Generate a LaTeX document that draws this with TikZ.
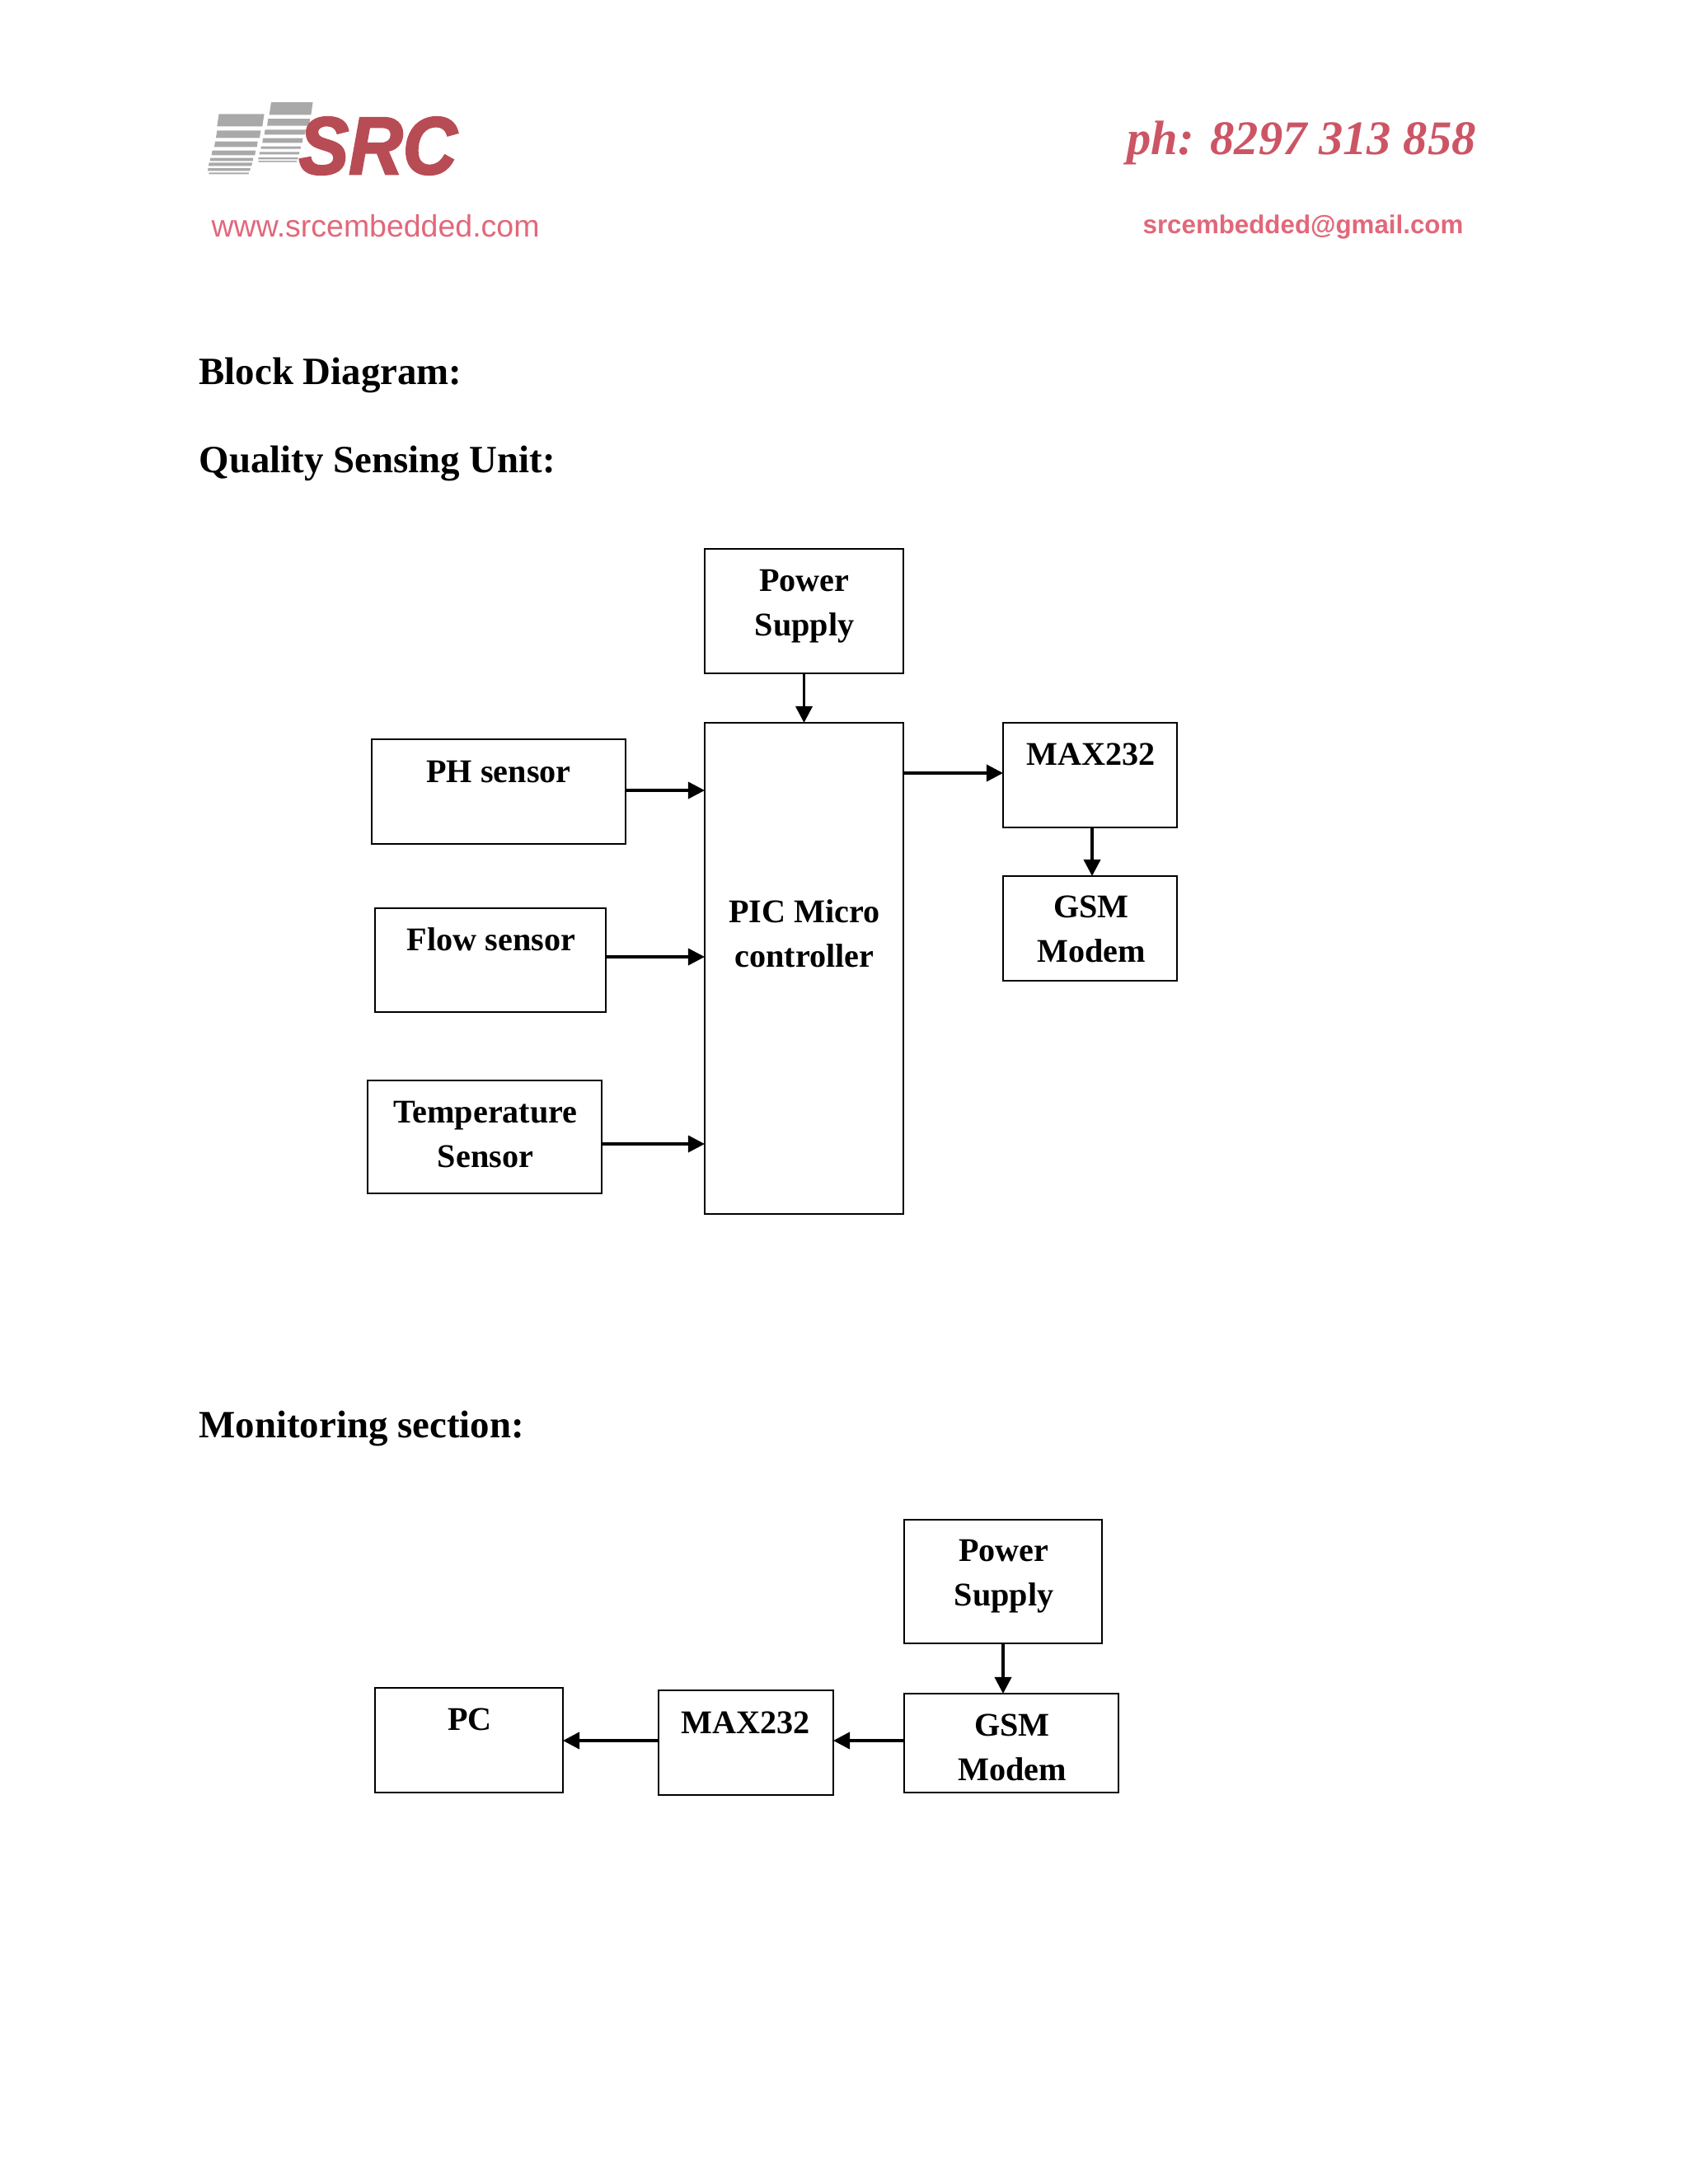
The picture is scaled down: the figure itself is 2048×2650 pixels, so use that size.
\documentclass[tikz,border=0pt]{standalone}
\usepackage{fontspec}
\setmainfont{Liberation Serif}
\newfontfamily\sansf{Liberation Sans}
\newfontfamily\logof[FakeBold=2.5]{Liberation Sans Bold Italic}
\usetikzlibrary{arrows.meta,fit}
\definecolor{logored}{HTML}{B84C55}
\definecolor{linkred}{HTML}{E2677A}
\definecolor{phred}{HTML}{CC5565}
\definecolor{stripe}{HTML}{A9A9A9}
\tikzset{
  boxn/.style={draw=black,line width=0.8pt,inner sep=0pt,outer sep=0pt,rectangle},
  lbl/.style={inner sep=0pt,align=center,font=\fontsize{12}{16}\selectfont\bfseries},
  head/.style={inner sep=0pt,anchor=base west,font=\fontsize{14}{16}\selectfont\bfseries},
  conn/.style={line width=1.05pt,-{Triangle[length=6pt,width=6pt]}},
}
\begin{document}
\begin{tikzpicture}[x=0.298828pt,y=-0.298828pt]
\useasboundingbox (0,0) rectangle (2048,2650);
% logo stripes
\begin{scope}[shift={(220,90)},scale=1/3]
\foreach \ya/\yb/\xa/\xb in {145/190/130/295, 205/232/126/285, 245/265/120/275, 278/295/110/268, 305/316/104/260, 322/334/99/256, 342/352/96/250, 358/364/100/245,
 102/148/320/472, 162/188/312/465, 202/220/302/450, 233/250/295/440, 263/272/289/434, 283/292/284/429, 303/310/280/424, 315/320/280/420}
  \fill[stripe] (\xa,\yb) -- ({\xa+.15*(\yb-\ya)},\ya) -- ({\xb+.15*(\yb-\ya)},\ya) -- (\xb,\yb) -- cycle;
\end{scope}
\node[inner sep=0pt,anchor=base west,text=logored,font=\logof\fontsize{29.5}{31}\selectfont,xscale=.92,transform shape] (logo) at (362,211) {SRC};
\node[inner sep=0pt,anchor=base west,text=linkred,font=\sansf\fontsize{11.2}{12}\selectfont] (web) at (256,287) {www.srcembedded.com};
\node[inner sep=0pt,anchor=base west,text=phred,font=\fontsize{17.5}{19}\selectfont\bfseries\itshape] (phone) at (1367,187) {ph: 8297 313 858};
\node[inner sep=0pt,anchor=base west,text=linkred,font=\sansf\fontsize{9.35}{11}\selectfont\bfseries] (mail) at (1386,283) {srcembedded@gmail.com};
% headings
\node[head] (h1) at (241,466) {Block Diagram:};
\node[head] (h2) at (241,573) {Quality Sensing Unit:};
\node[head] (h3) at (241,1744) {Monitoring section:};
% boxes, upper
\node[boxn,fit={(855,666)(1096,817)}] (ps) {};
\node[boxn,fit={(855,877)(1096,1473)}] (pic) {};
\node[boxn,fit={(451,897)(759,1024)}] (ph) {};
\node[boxn,fit={(455,1102)(735,1228)}] (flow) {};
\node[boxn,fit={(446,1311)(730,1448)}] (temp) {};
\node[boxn,fit={(1217,877)(1428,1004)}] (max) {};
\node[boxn,fit={(1217,1063)(1428,1190)}] (gsm) {};
% boxes, lower
\node[boxn,fit={(1097,1844)(1337,1994)}] (psb) {};
\node[boxn,fit={(1097,2055)(1357,2175)}] (gsmb) {};
\node[boxn,fit={(799,2051)(1011,2178)}] (maxb) {};
\node[boxn,fit={(455,2048)(683,2175)}] (pc) {};
% labels
\node[lbl] (tps) at (976,734) {\strut Power\\\strut Supply};
\node[lbl] (tph) at (605,939) {\strut PH sensor};
\node[lbl] (tflow) at (596,1143) {\strut Flow sensor};
\node[lbl] (ttemp) at (589,1379) {\strut Temperature\\\strut Sensor};
\node[lbl] (tpic) at (976,1136) {\strut PIC Micro\\\strut controller};
\node[lbl] (tmax) at (1324,918) {\strut MAX232};
\node[lbl] (tgsm) at (1324,1130) {\strut GSM\\\strut Modem};
\node[lbl] (tpsb) at (1218,1911) {\strut Power\\\strut Supply};
\node[lbl] (tpc) at (570,2089) {\strut PC};
\node[lbl] (tmaxb) at (905,2093) {\strut MAX232};
\node[lbl] (tgsmb) at (1228,2123) {\strut GSM\\\strut Modem};
% connectors
\coordinate (phout) at (ph.east |- 0,959);
\coordinate (flowout) at (flow.east |- 0,1161);
\coordinate (tempout) at (temp.east |- 0,1388);
\coordinate (picout) at (pic.east |- 0,938);
\coordinate (maxout) at (max.south -| 1325,0);
\coordinate (bandy) at (0,2112);
\draw[conn] (ps.south) -- (pic.north);
\draw[conn] (phout) -- (phout -| pic.west);
\draw[conn] (flowout) -- (flowout -| pic.west);
\draw[conn] (tempout) -- (tempout -| pic.west);
\draw[conn] (picout) -- (picout -| max.west);
\draw[conn] (maxout) -- (maxout |- gsm.north);
\draw[conn] (psb.south) -- (psb.south |- gsmb.north);
\draw[conn,line width=1.2pt] (gsmb.west |- bandy) -- (maxb.east |- bandy);
\draw[conn,line width=1.2pt] (maxb.west |- bandy) -- (pc.east |- bandy);
\end{tikzpicture}
\end{document}
